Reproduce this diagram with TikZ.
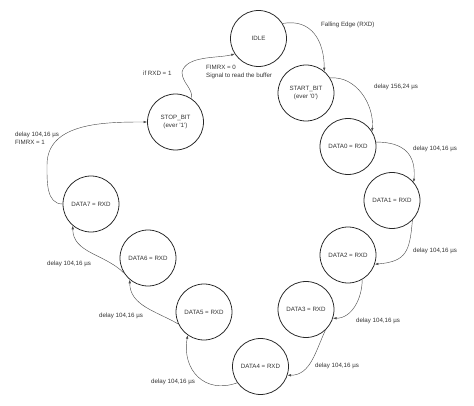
\documentclass[tikz,border=0pt]{standalone}
\usepackage{fontspec}
\setmainfont{Liberation Sans}
\usetikzlibrary{arrows.meta}
\tikzset{
  estado/.style={circle, draw=black!85, line width=1.1pt, minimum size=2.8cm, inner sep=0pt, text=black!80, align=center},
  trans/.style={-{Latex[length=5pt,width=3.5pt]}, line width=0.6pt, draw=black!70},
  etiq/.style={anchor=west, text=black!80, inner sep=0pt, align=left}
}
\begin{document}
\begin{tikzpicture}[x=0.05cm, y=0.05cm, font=\fontsize{8.8}{10.8}\selectfont]
    \useasboundingbox (0,0) rectangle (474,405);
    % estados
    \node[estado] (idle)  at (258.5,366.5) {IDLE};
    \node[estado] (start) at (306,312) {START\_BIT\\(ever '0')};
    \node[estado] (stop)  at (175.5,283) {STOP\_BIT\\(ever '1')};
    \node[estado] (d0) at (348,258.5) {DATA0 = RXD};
    \node[estado] (d1) at (392,204.5) {DATA1 = RXD};
    \node[estado] (d2) at (348,150) {DATA2 = RXD};
    \node[estado] (d3) at (306,95.5) {DATA3 = RXD};
    \node[estado] (d4) at (260.5,38.5) {DATA4 = RXD};
    \node[estado] (d5) at (204,93) {DATA5 = RXD};
    \node[estado] (d6) at (148,147) {DATA6 = RXD};
    \node[estado] (d7) at (91,201) {DATA7 = RXD};
    % puntos de paso
    \coordinate (w7) at (47,240);
    \coordinate (ws) at (182,333);
    % transiciones
    \draw[trans] (idle.32) to[out=10,in=90,looseness=1.2] (start.50);
    \draw[trans] (start.32) to[out=5,in=85] (d0.32);
    \draw[trans] (d0.9) to[out=0,in=85,looseness=1.3] (d1.40);
    \draw[trans] (d1.-44) to[out=-95,in=5,looseness=1.4] (d2.-19);
    \draw[trans] (d2.-60) to[out=-90,in=0] (d3.-18);
    \draw[trans] (d3.-47) to[out=-115,in=0] (d4.-18);
    \draw[trans] (d4.-145) to[out=200,in=-100,looseness=1.3] (d5.-125);
    \draw[trans] (d5.-155) to[out=150,in=-90] (d6.-130);
    \draw[trans] (d6.-148) to[out=135,in=-90] (d7.-130);
    \draw[trans] (d7.180) to[out=180,in=-90] (w7) to[out=90,in=180] (stop.180);
    \draw[trans] (stop.55) to[out=85,in=-90] (ws) to[out=75,in=195,looseness=0.8] (idle.-147);
    % etiquetas
    \node[etiq] (lfall) at (321,380) {Falling Edge (RXD)};
    \node[etiq] (ldel0) at (374,318) {delay 156,24 µs};
    \node[etiq] (ldel1) at (413,256) {delay 104,16 µs};
    \node[etiq] (ldel2) at (413,154) {delay 104,16 µs};
    \node[etiq] (ldel3) at (356,84) {delay 104,16 µs};
    \node[etiq] (ldel4) at (315,39) {delay 104,16 µs};
    \node[etiq] (ldel5) at (151,23) {delay 104,16 µs};
    \node[etiq] (ldel6) at (99,89) {delay 104,16 µs};
    \node[etiq] (ldel7) at (47,141) {delay 104,16 µs};
    \node[etiq] (lfim1) at (15,266.5) {delay 104,16 µs\\FIMRX = 1};
    \node[etiq] (lrxd)  at (143,332) {if RXD = 1};
    \node[etiq] (lfim0) at (206,333) {FIMRX = 0\\Signal to read the buffer};
\end{tikzpicture}
\end{document}
